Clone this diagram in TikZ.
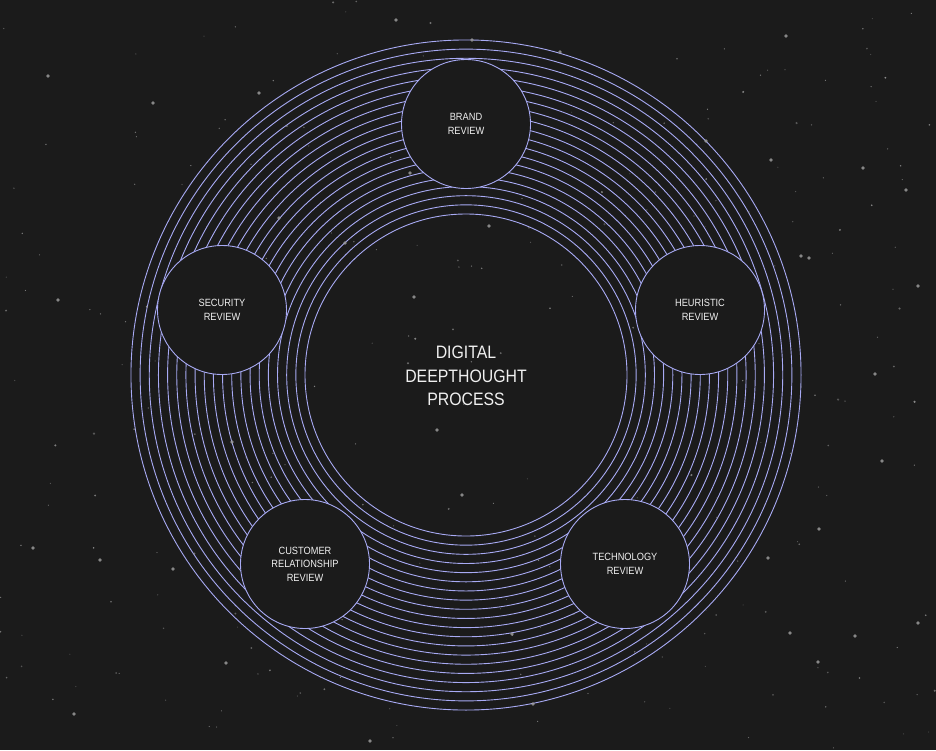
\documentclass[tikz,border=0pt]{standalone}
\usepackage{fontspec}
\newfontfamily\reviewfont{Liberation Sans}[FakeStretch=0.88]
\definecolor{space}{RGB}{27,27,27}
\definecolor{ringline}{RGB}{168,170,244}
\definecolor{star}{RGB}{155,155,155}
\definecolor{label}{RGB}{240,240,240}

\begin{document}
\begin{tikzpicture}[
    x=1pt,
    y=-1pt,
    ring/.style={
      draw=ringline,
      line width=0.9pt
    },
    review/.style={
      circle,
      draw=ringline,
      fill=space,
      line width=0.9pt,
      minimum size=129pt,
      inner sep=0pt,
      align=center,
      text=label,
      font=\reviewfont\fontsize{10.5}{13.5}\selectfont
    }
    ]
    \useasboundingbox (0,0) rectangle (936,750);
    \fill[space] (0,0) rectangle (936,750);
    \coordinate (c) at (466,375);

    \foreach \i in {0,...,19}{
      \pgfmathsetmacro\r{161+9.16*\i}
      \draw[ring] (c) circle [radius=\r pt];
    }

    \pgfmathsetseed{4711}
    \foreach \s in {1,...,260}{
      \pgfmathsetmacro\sx{936*rnd}
      \pgfmathsetmacro\sy{750*rnd}
      \pgfmathsetmacro\sr{0.5+0.9*rnd*rnd}
      \pgfmathsetmacro\so{0.4+0.5*rnd}
      \fill[star, opacity=\so] (\sx,\sy) circle [radius=\sr pt];
    }
    \foreach \sx/\sy in {396/20,153/103,259/93,48/76,786/36,771/160,863/168,
      906/190,801/256,809/258,918/286,875/374,882/461,819/529,33/548,
      74/714,790/633,768/558,855/636,918/623,818/662,370/741,533/704,
      512/634,462/495,437/430,414/297,345/243,279/218,232/442,173/569,
      226/663,100/560,410/173,472/40,489/226,58/300,706/141,560/52}{
      \fill[star, opacity=0.85] (\sx,\sy) circle [radius=1.8pt];
    }

    \node[review] (brand) at (466,124) {BRAND\\REVIEW};
    \node[review] (heuristic) at (700,310) {HEURISTIC\\REVIEW};
    \node[review] (security) at (222,310) {SECURITY\\REVIEW};
    \node[review] (customer) at (305,564) {CUSTOMER\\RELATIONSHIP\\REVIEW};
    \node[review] (technology) at (625,564) {TECHNOLOGY\\REVIEW};

    \node[align=center, text=label,
      font=\reviewfont\fontsize{18}{23.5}\selectfont]
      (title) at (466,376) {DIGITAL\\DEEPTHOUGHT\\PROCESS};
\end{tikzpicture}
\end{document}
